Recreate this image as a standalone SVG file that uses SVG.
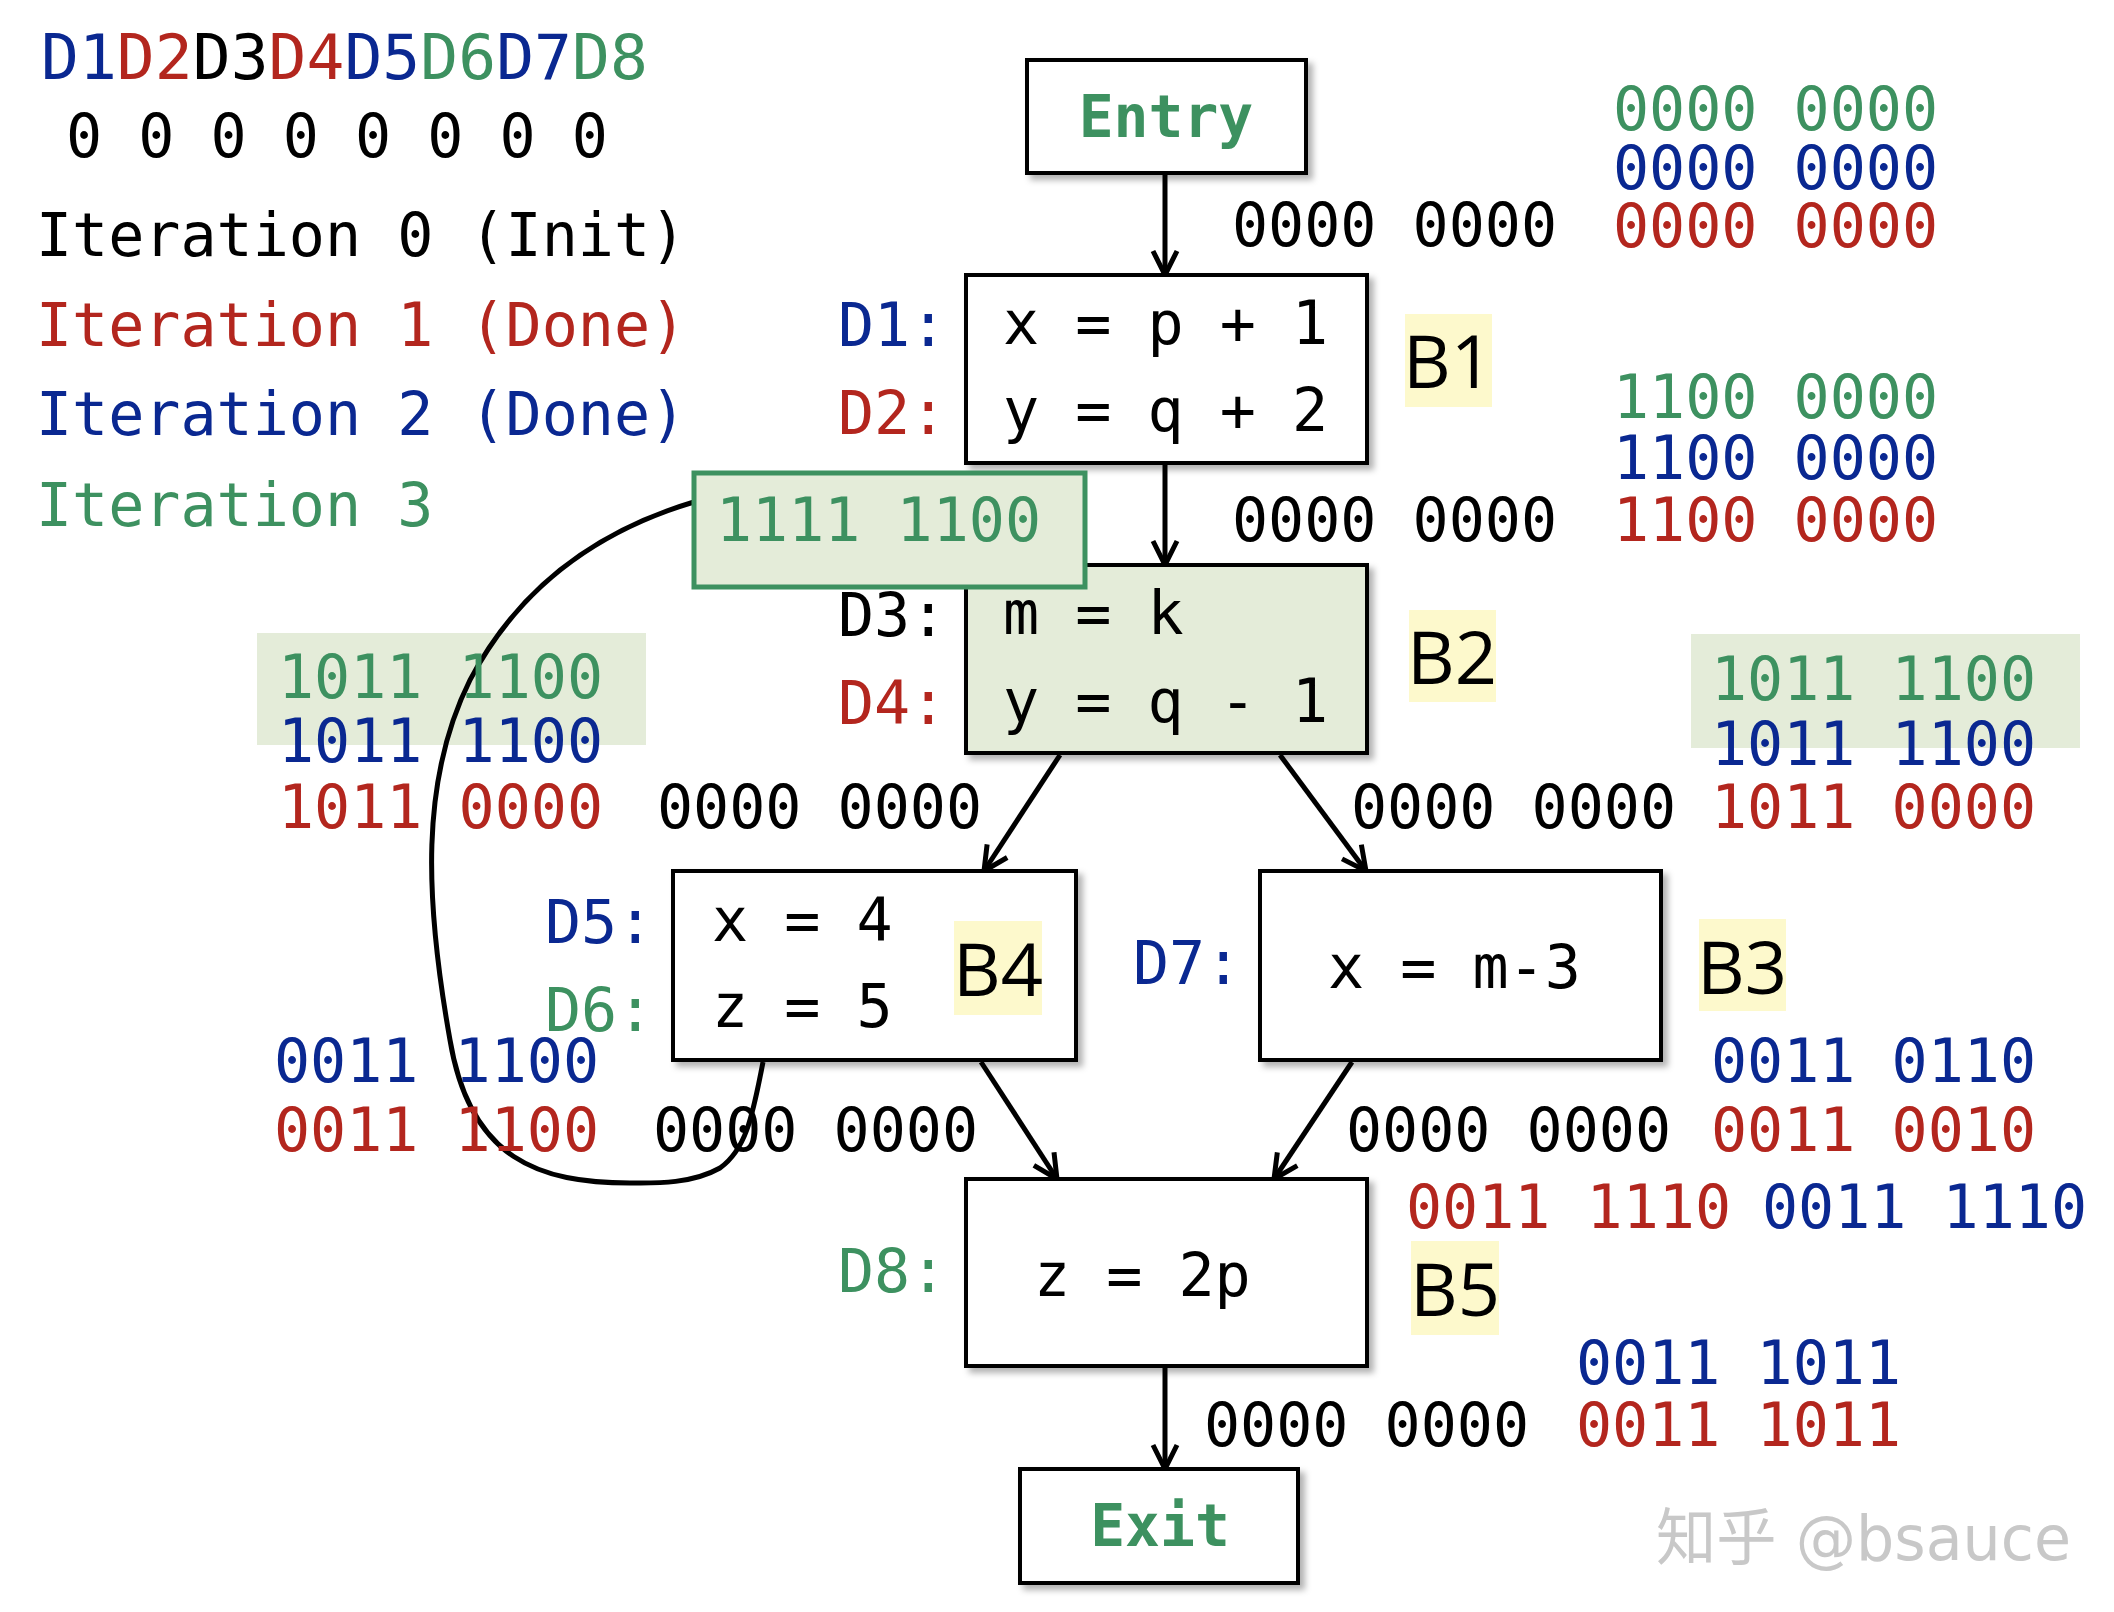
<svg xmlns="http://www.w3.org/2000/svg" width="2114" height="1612" viewBox="0 0 2114 1612">
<style>
text{font-family:"DejaVu Sans Mono","Liberation Mono",monospace;font-size:60px}
.g{fill:#3d9160}.r{fill:#b3261e}.b{fill:#0a2891}.k{fill:#000}
.box{fill:#fff;stroke:#000;stroke-width:4;filter:url(#sh)}
.bl{font-family:"Open Sans","DejaVu Sans",sans-serif;font-size:74px;text-anchor:middle}
.hl{fill:#fdf9cc}
.conn{stroke:#000;stroke-width:5;fill:none}
</style>
<defs>
<filter id="sh" x="-10%" y="-10%" width="130%" height="130%"><feDropShadow dx="5" dy="5" stdDeviation="3" flood-color="#000" flood-opacity="0.3"/></filter>
<marker id="ar" viewBox="0 0 30 30" refX="27" refY="15" markerWidth="30" markerHeight="30" markerUnits="userSpaceOnUse" orient="auto"><path d="M3,3 L27,15 L3,27" fill="none" stroke="#000" stroke-width="5"/></marker>
</defs>
<rect x="257" y="633" width="389" height="112" fill="#e4ecd9"/>
<rect x="1691" y="634" width="389" height="114" fill="#e4ecd9"/>
<g id="legend">
<text x="41" y="79" style="font-size:63px"><tspan class="b">D1</tspan><tspan class="r">D2</tspan><tspan class="k">D3</tspan><tspan class="r">D4</tspan><tspan class="b">D5</tspan><tspan class="g">D6</tspan><tspan class="b">D7</tspan><tspan class="g">D8</tspan></text>
<text x="66" y="157" class="k">0 0 0 0 0 0 0 0</text>
<text x="36" y="256" class="k">Iteration 0 (Init)</text>
<text x="36" y="346" class="r">Iteration 1 (Done)</text>
<text x="36" y="435" class="b">Iteration 2 (Done)</text>
<text x="36" y="526" class="g">Iteration 3</text>
</g>
<g id="connectors">
<line class="conn" x1="1165" y1="173" x2="1165" y2="275" marker-end="url(#ar)"/>
<line class="conn" x1="1165" y1="463" x2="1165" y2="565" marker-end="url(#ar)"/>
<line class="conn" x1="1060" y1="755" x2="984" y2="871" marker-end="url(#ar)"/>
<line class="conn" x1="1280" y1="755" x2="1366" y2="871" marker-end="url(#ar)"/>
<line class="conn" x1="981" y1="1062" x2="1057" y2="1179" marker-end="url(#ar)"/>
<line class="conn" x1="1352" y1="1062" x2="1274" y2="1179" marker-end="url(#ar)"/>
<line class="conn" x1="1165" y1="1368" x2="1165" y2="1469" marker-end="url(#ar)"/>
<path class="conn" d="M763,1062 C752,1120 745,1150 720,1168 C690,1185 650,1183 630,1183 C540,1183 470,1160 450,1040 C425,900 420,780 470,680 C520,585 600,530 694,502"/>
</g>
<g id="entry"><rect class="box" x="1027" y="60" width="279" height="113"/><text x="1166" y="137" class="g" style="font-weight:bold;font-size:58px" text-anchor="middle">Entry</text></g>
<g id="B1"><rect class="box" x="966" y="275" width="401" height="188"/>
<text x="1003" y="344">x = p + 1</text><text x="1003" y="431">y = q + 2</text>
<text x="838" y="346" class="b">D1:</text><text x="838" y="434" class="r">D2:</text>
<rect class="hl" x="1405" y="314" width="87" height="93"/><text class="bl" x="1448" y="388">B1</text></g>
<g id="B2"><rect class="box" x="966" y="565" width="401" height="188" style="fill:#e4ecd9"/>
<text x="1003" y="634">m = k</text><text x="1003" y="722">y = q - 1</text>
<text x="838" y="636" class="k">D3:</text><text x="838" y="724" class="r">D4:</text>
<rect class="hl" x="1409" y="610" width="87" height="92"/><text class="bl" x="1452" y="684">B2</text></g>
<g id="B4"><rect class="box" x="673" y="871" width="403" height="189"/>
<text x="712" y="941">x = 4</text><text x="712" y="1027">z = 5</text>
<text x="545" y="943" class="b">D5:</text><text x="545" y="1031" class="g">D6:</text>
<rect class="hl" x="954" y="921" width="88" height="94"/><text class="bl" x="998" y="996">B4</text></g>
<g id="B3"><rect class="box" x="1260" y="871" width="401" height="189"/>
<text x="1328" y="988">x = m-3</text><text x="1133" y="984" class="b">D7:</text>
<rect class="hl" x="1699" y="919" width="87" height="92"/><text class="bl" x="1742" y="994">B3</text></g>
<g id="B5"><rect class="box" x="966" y="1179" width="401" height="187"/>
<text x="1034" y="1296">z = 2p</text><text x="838" y="1292" class="g">D8:</text>
<rect class="hl" x="1411" y="1241" width="88" height="94"/><text class="bl" x="1455" y="1316">B5</text></g>
<g id="exit"><rect class="box" x="1020" y="1469" width="278" height="114"/><text x="1160" y="1546" class="g" style="font-weight:bold;font-size:58px" text-anchor="middle">Exit</text></g>
<g id="loopbox"><rect x="694" y="473" width="391" height="114" fill="#e4ecd9" stroke="#3d9160" stroke-width="5"/><text x="716" y="541" class="g">1111 1100</text></g>
<g id="sets">
<text x="1232" y="246" class="k">0000 0000</text>
<text x="1613" y="130" class="g">0000 0000</text><text x="1613" y="189" class="b">0000 0000</text><text x="1613" y="247" class="r">0000 0000</text>
<text x="1232" y="541" class="k">0000 0000</text>
<text x="1613" y="418" class="g">1100 0000</text><text x="1613" y="479" class="b">1100 0000</text><text x="1613" y="541" class="r">1100 0000</text>
<text x="278" y="698" class="g">1011 1100</text><text x="278" y="762" class="b">1011 1100</text><text x="278" y="828" class="r">1011 0000</text>
<text x="657" y="828" class="k">0000 0000</text>
<text x="1711" y="700" class="g">1011 1100</text><text x="1711" y="765" class="b">1011 1100</text><text x="1711" y="828" class="r">1011 0000</text>
<text x="1351" y="828" class="k">0000 0000</text>
<text x="274" y="1082" class="b">0011 1100</text><text x="274" y="1151" class="r">0011 1100</text>
<text x="653" y="1151" class="k">0000 0000</text>
<text x="1711" y="1082" class="b">0011 0110</text><text x="1711" y="1151" class="r">0011 0010</text>
<text x="1346" y="1151" class="k">0000 0000</text>
<text x="1406" y="1228" class="r">0011 1110</text><text x="1762" y="1228" class="b">0011 1110</text>
<text x="1576" y="1384" class="b">0011 1011</text><text x="1576" y="1446" class="r">0011 1011</text>
<text x="1204" y="1446" class="k">0000 0000</text>
</g>
<text x="1656" y="1560" textLength="415" lengthAdjust="spacingAndGlyphs" style="font-family:'DejaVu Sans','Noto Sans CJK SC',sans-serif;font-size:62px;fill:#c8c8c8">知乎 @bsauce</text>
</svg>
